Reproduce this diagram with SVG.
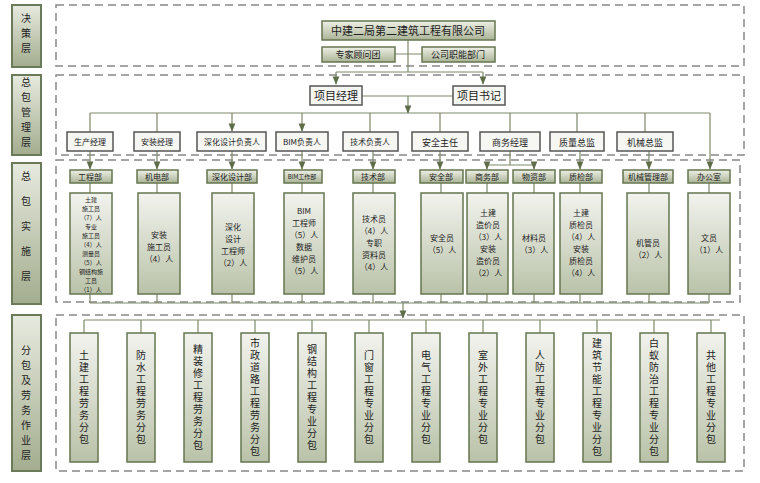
<svg xmlns="http://www.w3.org/2000/svg" width="760" height="483" viewBox="0 0 760 483">
<defs>
<linearGradient id="gHead" x1="0" y1="0" x2="0" y2="1"><stop offset="0" stop-color="#eef0e6"/><stop offset="1" stop-color="#aab496"/></linearGradient>
<linearGradient id="gBody" x1="0" y1="0" x2="0" y2="1"><stop offset="0" stop-color="#f2f3ee"/><stop offset="1" stop-color="#b9c2a8"/></linearGradient>
<linearGradient id="gSide" x1="0" y1="0" x2="0" y2="1"><stop offset="0" stop-color="#e7eadf"/><stop offset="1" stop-color="#a3ad8e"/></linearGradient>
<marker id="ar" viewBox="0 0 10 10" refX="9" refY="5" markerWidth="7" markerHeight="7" orient="auto"><path d="M0,1 L10,5 L0,9 z" fill="#5f6e48"/></marker>
<style>
text{font-family:"Noto Sans CJK SC","Liberation Sans",sans-serif;fill:#222;text-anchor:middle}
.v{writing-mode:vertical-rl;text-orientation:upright}
.vb{writing-mode:vertical-rl;text-orientation:upright;font-size:10px;letter-spacing:2px}
.side{fill:url(#gSide);stroke:#6b7a58;stroke-width:2}
.zone{fill:none;stroke:#888;stroke-width:1.5;stroke-dasharray:8 5}
.head{fill:url(#gHead);stroke:#66764f;stroke-width:1.5}
.body{fill:url(#gBody);stroke:#66764f;stroke-width:1.5}
.mgr{fill:#f6f6f2;stroke:#555;stroke-width:1.5}
.ln{fill:none;stroke:#7d8a6a;stroke-width:1.2}
.t11{font-size:11px}.t10{font-size:10px}.t9{font-size:9px}.t8{font-size:8px}.t7{font-size:7px}.t6{font-size:6px}
</style>
</defs>
<rect width="760" height="483" fill="#fff"/>
<g id="zones">
<rect class="zone" x="56" y="5" width="688" height="61"/>
<rect class="zone" x="56" y="75" width="688" height="80"/>
<rect class="zone" x="56" y="160" width="684" height="142"/>
<rect class="zone" x="56" y="315" width="688" height="156"/>
</g>
<g id="sides">
<rect class="side" x="12" y="5" width="29" height="62"/>
<text class="v t10" x="26" y="36" style="letter-spacing:5px">决策层</text>
<rect class="side" x="12" y="75" width="29" height="80"/>
<text class="v t10" x="26" y="115" style="letter-spacing:5px">总包管理层</text>
<rect class="side" x="12" y="163" width="29" height="141"/>
<text class="v t10" x="26" y="234" style="letter-spacing:15px">总包实施层</text>
<rect class="side" x="12" y="315" width="29" height="156"/>
<text class="v t10" x="26" y="405" style="letter-spacing:5px">分包及劳务作业层</text>
</g>
<g id="connectors">
<path class="ln" d="M408,40 V72 M395,54 H422 M336,72 H483"/>
<path class="ln" d="M336,72 V84" marker-end="url(#ar)"/>
<path class="ln" d="M483,72 V84" marker-end="url(#ar)"/>
<path class="ln" d="M362,96 H453 M408,96 V113" marker-end="url(#ar)"/>
<path class="ln" d="M90,113 H710 M90,113 V132 M157,113 V132 M370,113 V132 M440,113 V132 M510,113 V132 M577,113 V132 M645,113 V132"/>
<path class="ln" d="M232,113 V131" marker-end="url(#ar)"/>
<path class="ln" d="M302,113 V131" marker-end="url(#ar)"/>
<path class="ln" d="M90,151 V169" marker-end="url(#ar)"/>
<path class="ln" d="M157,151 V169" marker-end="url(#ar)"/>
<path class="ln" d="M232,151 V169" marker-end="url(#ar)"/>
<path class="ln" d="M302,151 V169" marker-end="url(#ar)"/>
<path class="ln" d="M373,151 V169" marker-end="url(#ar)"/>
<path class="ln" d="M440,151 V169" marker-end="url(#ar)"/>
<path class="ln" d="M510,151 V165 M487,165 H534"/>
<path class="ln" d="M487,165 V169" marker-end="url(#ar)"/>
<path class="ln" d="M534,165 V169" marker-end="url(#ar)"/>
<path class="ln" d="M580,151 V169" marker-end="url(#ar)"/>
<path class="ln" d="M649,151 V169" marker-end="url(#ar)"/>
<path class="ln" d="M710,113 V169" marker-end="url(#ar)"/>
<path class="ln" d="M90,183 V193 M157,183 V193 M232,183 V193 M302,183 V193 M373,183 V193 M441,183 V193 M487,183 V193 M534,183 V193 M580,183 V193 M649,183 V193 M709,183 V193"/>
<path class="ln" d="M90,294 V303 M157,294 V303 M232,294 V303 M302,294 V303 M373,294 V303 M441,294 V303 M487,294 V303 M534,294 V303 M580,294 V303 M649,294 V303 M709,294 V303 M90,303 H709"/>
<path class="ln" d="M403,303 V318" marker-end="url(#ar)"/>
<path class="ln" d="M84,320 H720 M84,320 V333 M141,320 V333 M198,320 V333 M255,320 V333 M312,320 V333 M369,320 V333 M426,320 V333 M483,320 V333 M540,320 V333 M597,320 V333 M654,320 V333 M711,320 V333"/>
</g>
<g id="n-company"><rect class="head" x="322" y="21" width="173" height="19"/><text class="t11" x="408" y="35">中建二局第二建筑工程有限公司</text></g>
<g id="n-expert"><rect class="head" x="322" y="47" width="73" height="15"/><text class="t9" x="358" y="58">专家顾问团</text></g>
<g id="n-func"><rect class="head" x="422" y="47" width="73" height="15"/><text class="t9" x="458" y="58">公司职能部门</text></g>
<g id="n-pm"><rect class="mgr" x="310" y="86" width="52" height="19"/><text class="t11" x="336" y="100">项目经理</text></g>
<g id="n-ps"><rect class="mgr" x="453" y="86" width="52" height="19"/><text class="t11" x="479" y="100">项目书记</text></g>
<g id="n-m1"><rect class="mgr" x="67" y="132" width="46" height="19"/><text class="t8" x="90" y="145">生产经理</text></g>
<g id="n-m2"><rect class="mgr" x="134" y="132" width="46" height="19"/><text class="t8" x="157" y="145">安装经理</text></g>
<g id="n-m3"><rect class="mgr" x="197" y="132" width="69" height="19"/><text class="t8" x="232" y="145">深化设计负责人</text></g>
<g id="n-m4"><rect class="mgr" x="276" y="132" width="52" height="19"/><text class="t8" x="302" y="145">BIM负责人</text></g>
<g id="n-m5"><rect class="mgr" x="343" y="132" width="55" height="19"/><text class="t8" x="370" y="145">技术负责人</text></g>
<g id="n-m6"><rect class="mgr" x="412" y="132" width="56" height="19"/><text class="t9" x="440" y="146">安全主任</text></g>
<g id="n-m7"><rect class="mgr" x="480" y="132" width="60" height="19"/><text class="t9" x="510" y="146">商务经理</text></g>
<g id="n-m8"><rect class="mgr" x="550" y="132" width="54" height="19"/><text class="t9" x="577" y="146">质量总监</text></g>
<g id="n-m9"><rect class="mgr" x="617" y="132" width="56" height="19"/><text class="t9" x="645" y="146">机械总监</text></g>
<g id="n-d1"><rect class="head" x="70" y="170" width="42" height="13"/><text class="t8" x="90" y="180">工程部</text></g>
<g id="n-d2"><rect class="head" x="137" y="170" width="41" height="13"/><text class="t8" x="157" y="180">机电部</text></g>
<g id="n-d3"><rect class="head" x="207" y="170" width="50" height="13"/><text class="t8" x="232" y="180">深化设计部</text></g>
<g id="n-d4"><rect class="head" x="284" y="170" width="38" height="13"/><text class="t6" x="302" y="179">BIM工作部</text></g>
<g id="n-d5"><rect class="head" x="353" y="170" width="42" height="13"/><text class="t8" x="373" y="180">技术部</text></g>
<g id="n-d6"><rect class="head" x="420" y="170" width="43" height="13"/><text class="t8" x="441" y="180">安全部</text></g>
<g id="n-d7"><rect class="head" x="466" y="170" width="42" height="13"/><text class="t8" x="487" y="180">商务部</text></g>
<g id="n-d8"><rect class="head" x="513" y="170" width="42" height="13"/><text class="t8" x="534" y="180">物资部</text></g>
<g id="n-d9"><rect class="head" x="560" y="170" width="42" height="13"/><text class="t8" x="581" y="180">质检部</text></g>
<g id="n-d10"><rect class="head" x="623" y="170" width="50" height="13"/><text class="t8" x="648" y="180">机械管理部</text></g>
<g id="n-d11"><rect class="head" x="688" y="170" width="42" height="13"/><text class="t8" x="709" y="180">办公室</text></g>
<g id="n-s1"><rect class="body" x="70" y="193" width="42" height="101"/><text class="t6"><tspan x="91" y="202">土建</tspan><tspan x="91" y="211">施工员</tspan><tspan x="91" y="220">（7）人</tspan><tspan x="91" y="229">专业</tspan><tspan x="91" y="238">施工员</tspan><tspan x="91" y="247">（4）人</tspan><tspan x="91" y="256">测量员</tspan><tspan x="91" y="265">（5）人</tspan><tspan x="91" y="274">钢结构施</tspan><tspan x="91" y="283">工员</tspan><tspan x="91" y="292">（1）人</tspan></text></g>
<g id="n-s2"><rect class="body" x="138" y="193" width="42" height="101"/><text class="t8"><tspan x="159" y="238">安装</tspan><tspan x="159" y="250">施工员</tspan><tspan x="159" y="262">（4）人</tspan></text></g>
<g id="n-s3"><rect class="body" x="212" y="193" width="42" height="101"/><text class="t8"><tspan x="233" y="230">深化</tspan><tspan x="233" y="242">设计</tspan><tspan x="233" y="254">工程师</tspan><tspan x="233" y="266">（2）人</tspan></text></g>
<g id="n-s4"><rect class="body" x="284" y="193" width="40" height="101"/><text class="t8"><tspan x="304" y="214">BIM</tspan><tspan x="304" y="226">工程师</tspan><tspan x="304" y="238">（5）人</tspan><tspan x="304" y="250">数据</tspan><tspan x="304" y="262">维护员</tspan><tspan x="304" y="274">（5）人</tspan></text></g>
<g id="n-s5"><rect class="body" x="353" y="193" width="42" height="101"/><text class="t8"><tspan x="374" y="222">技术员</tspan><tspan x="374" y="234">（4）人</tspan><tspan x="374" y="246">专职</tspan><tspan x="374" y="258">资料员</tspan><tspan x="374" y="270">（4）人</tspan></text></g>
<g id="n-s6"><rect class="body" x="421" y="193" width="42" height="101"/><text class="t8"><tspan x="442" y="241">安全员</tspan><tspan x="442" y="253">（5）人</tspan></text></g>
<g id="n-s7"><rect class="body" x="467" y="193" width="41" height="101"/><text class="t8"><tspan x="488" y="216">土建</tspan><tspan x="488" y="228">造价员</tspan><tspan x="488" y="240">（3）人</tspan><tspan x="488" y="252">安装</tspan><tspan x="488" y="264">造价员</tspan><tspan x="488" y="276">（2）人</tspan></text></g>
<g id="n-s8"><rect class="body" x="513" y="193" width="41" height="101"/><text class="t8"><tspan x="534" y="241">材料员</tspan><tspan x="534" y="253">（3）人</tspan></text></g>
<g id="n-s9"><rect class="body" x="560" y="193" width="42" height="101"/><text class="t8"><tspan x="581" y="216">土建</tspan><tspan x="581" y="228">质检员</tspan><tspan x="581" y="240">（4）人</tspan><tspan x="581" y="252">安装</tspan><tspan x="581" y="264">质检员</tspan><tspan x="581" y="276">（4）人</tspan></text></g>
<g id="n-s10"><rect class="body" x="627" y="193" width="42" height="101"/><text class="t8"><tspan x="648" y="246">机管员</tspan><tspan x="648" y="258">（2）人</tspan></text></g>
<g id="n-s11"><rect class="body" x="688" y="193" width="42" height="101"/><text class="t8"><tspan x="709" y="241">文员</tspan><tspan x="709" y="253">（1）人</tspan></text></g>
<g id="n-b1"><rect class="body" x="70" y="333" width="28" height="129"/><text class="vb" x="84" y="398">土建工程劳务分包</text></g>
<g id="n-b2"><rect class="body" x="127" y="333" width="28" height="129"/><text class="vb" x="141" y="398">防水工程劳务分包</text></g>
<g id="n-b3"><rect class="body" x="184" y="333" width="28" height="129"/><text class="vb" x="198" y="398">精装修工程劳务分包</text></g>
<g id="n-b4"><rect class="body" x="241" y="333" width="28" height="129"/><text class="vb" x="255" y="398">市政道路工程劳务分包</text></g>
<g id="n-b5"><rect class="body" x="298" y="333" width="28" height="129"/><text class="vb" x="312" y="398">钢结构工程专业分包</text></g>
<g id="n-b6"><rect class="body" x="355" y="333" width="28" height="129"/><text class="vb" x="369" y="398">门窗工程专业分包</text></g>
<g id="n-b7"><rect class="body" x="412" y="333" width="28" height="129"/><text class="vb" x="426" y="398">电气工程专业分包</text></g>
<g id="n-b8"><rect class="body" x="469" y="333" width="28" height="129"/><text class="vb" x="483" y="398">室外工程专业分包</text></g>
<g id="n-b9"><rect class="body" x="526" y="333" width="28" height="129"/><text class="vb" x="540" y="398">人防工程专业分包</text></g>
<g id="n-b10"><rect class="body" x="583" y="333" width="28" height="129"/><text class="vb" x="597" y="398">建筑节能工程专业分包</text></g>
<g id="n-b11"><rect class="body" x="640" y="333" width="28" height="129"/><text class="vb" x="654" y="398">白蚁防治工程专业分包</text></g>
<g id="n-b12"><rect class="body" x="697" y="333" width="28" height="129"/><text class="vb" x="711" y="398">共他工程专业分包</text></g>
</svg>
